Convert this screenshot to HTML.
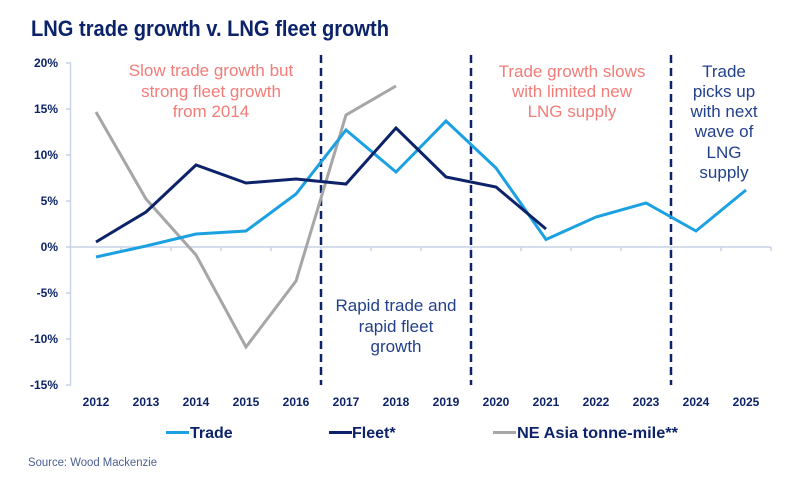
<!DOCTYPE html>
<html><head><meta charset="utf-8"><style>
html,body{margin:0;padding:0;background:#fff;}
svg{display:block;}
</style></head><body>
<svg width="800" height="480" viewBox="0 0 800 480" xmlns="http://www.w3.org/2000/svg" font-family="Liberation Sans, sans-serif">
<rect width="800" height="480" fill="#fff"/>
<text x="31" y="36" font-size="22" font-weight="bold" fill="#0c2369" textLength="358" lengthAdjust="spacingAndGlyphs">LNG trade growth v. LNG fleet growth</text>

<!-- y axis -->
<g stroke="#c8d3e8" stroke-width="1.5" fill="none">
<line x1="70.5" y1="63" x2="70.5" y2="385"/>
<line x1="66" y1="63" x2="71" y2="63"/>
<line x1="66" y1="109" x2="71" y2="109"/>
<line x1="66" y1="155" x2="71" y2="155"/>
<line x1="66" y1="201" x2="71" y2="201"/>
<line x1="66" y1="247" x2="71" y2="247"/>
<line x1="66" y1="293" x2="71" y2="293"/>
<line x1="66" y1="339" x2="71" y2="339"/>
<line x1="66" y1="385" x2="71" y2="385"/>
<line x1="70" y1="247" x2="771" y2="247"/>
<line x1="121" y1="247" x2="121" y2="251"/>
<line x1="171" y1="247" x2="171" y2="251"/>
<line x1="221" y1="247" x2="221" y2="251"/>
<line x1="271" y1="247" x2="271" y2="251"/>
<line x1="321" y1="247" x2="321" y2="251"/>
<line x1="371" y1="247" x2="371" y2="251"/>
<line x1="421" y1="247" x2="421" y2="251"/>
<line x1="471" y1="247" x2="471" y2="251"/>
<line x1="521" y1="247" x2="521" y2="251"/>
<line x1="571" y1="247" x2="571" y2="251"/>
<line x1="621" y1="247" x2="621" y2="251"/>
<line x1="671" y1="247" x2="671" y2="251"/>
<line x1="721" y1="247" x2="721" y2="251"/>
<line x1="771" y1="247" x2="771" y2="251"/>
</g>

<g font-size="12" font-weight="bold" fill="#0c2369" text-anchor="end">
<text x="58" y="67">20%</text>
<text x="58" y="113">15%</text>
<text x="58" y="159">10%</text>
<text x="58" y="205">5%</text>
<text x="58" y="251">0%</text>
<text x="58" y="297">-5%</text>
<text x="58" y="343">-10%</text>
<text x="58" y="389">-15%</text>
</g>

<g font-size="12" font-weight="bold" fill="#0c2369" text-anchor="middle">
<text x="96" y="406">2012</text>
<text x="146" y="406">2013</text>
<text x="196" y="406">2014</text>
<text x="246" y="406">2015</text>
<text x="296" y="406">2016</text>
<text x="346" y="406">2017</text>
<text x="396" y="406">2018</text>
<text x="446" y="406">2019</text>
<text x="496" y="406">2020</text>
<text x="546" y="406">2021</text>
<text x="596" y="406">2022</text>
<text x="646" y="406">2023</text>
<text x="696" y="406">2024</text>
<text x="746" y="406">2025</text>
</g>

<!-- dashed dividers -->
<g stroke="#0c2369" stroke-width="2.5" stroke-dasharray="8 5">
<line x1="321" y1="55" x2="321" y2="385"/>
<line x1="471" y1="55" x2="471" y2="385"/>
<line x1="671" y1="55" x2="671" y2="385"/>
</g>

<!-- series -->
<g fill="none" stroke-width="3" stroke-linejoin="miter">
<polyline stroke="#a6a6a6" points="96,112 146,199 196,255 246,347 296,281 346,115 396,86"/>
<polyline stroke="#1ba1e2" points="96,257 146,246 196,234 246,231 296,194 346,130 396,172 446,121 496,168 546,239.5 596,217 646,203 696,231 746,190"/>
<polyline stroke="#0c2369" points="96,242 146,212 196,165 246,183 296,179 346,184 396,128 446,177 496,187 546,229"/>
</g>

<!-- annotations -->
<g font-size="17" fill="#f37c78" text-anchor="middle">
<text x="211" y="76">Slow trade growth but</text>
<text x="211" y="97">strong fleet growth</text>
<text x="211" y="117">from 2014</text>
<text x="572" y="77">Trade growth slows</text>
<text x="572" y="97">with limited new</text>
<text x="572" y="117">LNG supply</text>
</g>
<g font-size="17" fill="#23418a" text-anchor="middle">
<text x="724" y="77">Trade</text>
<text x="724" y="97">picks up</text>
<text x="724" y="117">with next</text>
<text x="724" y="137">wave of</text>
<text x="724" y="158">LNG</text>
<text x="724" y="178">supply</text>
<text x="396" y="311">Rapid trade and</text>
<text x="396" y="332">rapid fleet</text>
<text x="396" y="352">growth</text>
</g>

<!-- legend -->
<g stroke-width="3">
<line x1="166" y1="432.5" x2="189" y2="432.5" stroke="#1ba1e2"/>
<line x1="329" y1="432.5" x2="352" y2="432.5" stroke="#0c2369"/>
<line x1="493" y1="432.5" x2="516" y2="432.5" stroke="#a6a6a6"/>
</g>
<g font-size="16" font-weight="bold" fill="#0c2369">
<text x="190" y="438">Trade</text>
<text x="352" y="438">Fleet*</text>
<text x="517" y="438" textLength="161" lengthAdjust="spacingAndGlyphs">NE Asia tonne-mile**</text>
</g>

<text x="28" y="466" font-size="11.5" fill="#4b5f93" textLength="129" lengthAdjust="spacingAndGlyphs">Source: Wood Mackenzie</text>
</svg>
</body></html>
